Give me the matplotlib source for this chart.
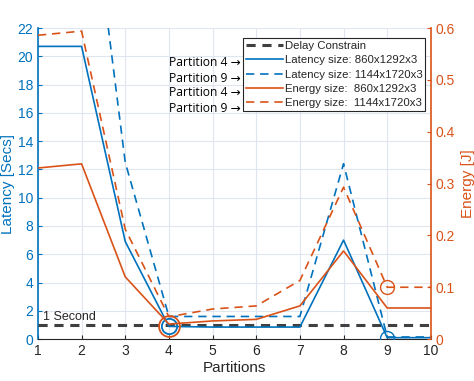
import matplotlib
matplotlib.use("Agg")
import matplotlib.pyplot as plt
from matplotlib.lines import Line2D

plt.rcParams['font.family'] = ['Liberation Sans', 'DejaVu Sans']

partitions = [1, 2, 3, 4, 5, 6, 7, 8, 9, 10]
latency_small = [20.7, 20.7, 6.9, 0.9, 0.85, 0.85, 0.85, 7.0, 0.1, 0.1]
latency_large = [37.0, 37.0, 12.5, 1.6, 1.6, 1.6, 1.6, 12.4, 0.15, 0.15]
energy_small = [0.33, 0.338, 0.12, 0.029, 0.035, 0.038, 0.064, 0.17, 0.06, 0.06]
energy_large = [0.586, 0.594, 0.212, 0.043, 0.058, 0.064, 0.113, 0.293, 0.1, 0.1]
delay_constraint = 1.0
left_ticks = list(range(0, 23, 2))
right_ticks = [0, 0.1, 0.2, 0.3, 0.4, 0.5, 0.6]

BLUE = '#0072BD'
ORANGE = '#D95319'
GRAY = '#404040'

fig = plt.figure(figsize=(4.74, 3.81), dpi=100)
ax = fig.add_axes([0.080, 0.110, 0.829, 0.8165])
ax2 = ax.twinx()

ax.set_xlim(1, 10)
ax.set_ylim(0, 22)
ax2.set_ylim(0, 0.6)
ax.set_xticks(partitions)
ax.set_yticks(left_ticks)
ax2.set_yticks(right_ticks)
ax2.set_yticklabels(['0', '0.1', '0.2', '0.3', '0.4', '0.5', '0.6'])

ax.grid(True, color='#dfe6ef', linewidth=0.8)
ax.set_axisbelow(True)

ax.plot([1, 10], [delay_constraint, delay_constraint], color=GRAY, lw=2.2, ls=(0, (3, 2.2)), zorder=3)
ax.plot(partitions, latency_small, color=BLUE, lw=1.2, zorder=4)
ax.plot(partitions, latency_large, color=BLUE, lw=1.2, ls=(0, (5, 3.5)), zorder=4)
ax.text(1.12, 1.35, '1 Second', fontsize=9, color='#262626')

ax2.plot(partitions, energy_small, color=ORANGE, lw=1.2, zorder=4)
ax2.plot(partitions, energy_large, color=ORANGE, lw=1.2, ls=(0, (5, 3.5)), zorder=4)

# highlight markers
ax.plot([4], [latency_small[3]], 'o', mfc='none', mec=ORANGE, ms=15, mew=1.3, zorder=5)
ax.plot([4], [latency_small[3]], 'o', mfc='none', mec=BLUE, ms=11, mew=1.3, zorder=5)
ax.plot([9], [0.05], 'o', mfc='none', mec=BLUE, ms=10, mew=1.0, zorder=5)
ax2.plot([9], [energy_large[8]], 'o', mfc='none', mec=ORANGE, ms=10, mew=1.0, zorder=5)

# spines / ticks
ax.spines['top'].set_visible(False)
ax2.spines['top'].set_visible(False)
ax.spines['left'].set_color(BLUE)
ax.spines['left'].set_linewidth(1.2)
ax2.spines['left'].set_visible(False)
ax2.spines['right'].set_color(ORANGE)
ax2.spines['right'].set_linewidth(1.2)
ax.spines['right'].set_visible(False)
ax.spines['bottom'].set_color('#262626')
ax2.spines['bottom'].set_visible(False)

ax.tick_params(axis='y', colors=BLUE, direction='in', length=3, labelsize=10)
ax.tick_params(axis='x', colors='#262626', direction='in', length=3, labelsize=10)
ax2.tick_params(axis='y', colors=ORANGE, direction='in', length=3, labelsize=10)

ax.set_xlabel('Partitions', fontsize=11, color='#262626', labelpad=2)
ax.set_ylabel('Latency [Secs]', fontsize=11, color=BLUE, labelpad=2)
ax2.set_ylabel('Energy [J]', fontsize=11, color=ORANGE, labelpad=4)

handles = [
    Line2D([], [], color=GRAY, lw=2.2, ls=(0, (3, 2.2))),
    Line2D([], [], color=BLUE, lw=1.2),
    Line2D([], [], color=BLUE, lw=1.2, ls=(0, (5, 3.5))),
    Line2D([], [], color=ORANGE, lw=1.2),
    Line2D([], [], color=ORANGE, lw=1.2, ls=(0, (5, 3.5))),
]
labels = ['Delay Constrain', 'Latency size: 860x1292x3', 'Latency size: 1144x1720x3',
          'Energy size:  860x1292x3', 'Energy size:  1144x1720x3']
leg = ax2.legend(handles, labels, loc='upper left', bbox_to_anchor=(243 / 474, 1 - 38 / 381),
                 bbox_transform=fig.transFigure, fontsize=8.2, frameon=True, fancybox=False,
                 edgecolor='#262626', framealpha=1, borderpad=0.25, labelspacing=0.38,
                 handlelength=3.3, handletextpad=0.1, borderaxespad=0)
leg.get_frame().set_linewidth(0.8)
for t in leg.get_texts():
    t.set_color('#262626')

part_labels = ['Partition 4 \u2192', 'Partition 9 \u2192', 'Partition 4 \u2192', 'Partition 9 \u2192']
ys = [63, 78, 93, 108]
for lab, yp in zip(part_labels, ys):
    fig.text(241 / 474, 1 - yp / 381, lab, ha='right', va='center', fontsize=8.7,
             family=['Open Sans', 'DejaVu Sans'], color='black')

fig.savefig('out.png', dpi=100)
